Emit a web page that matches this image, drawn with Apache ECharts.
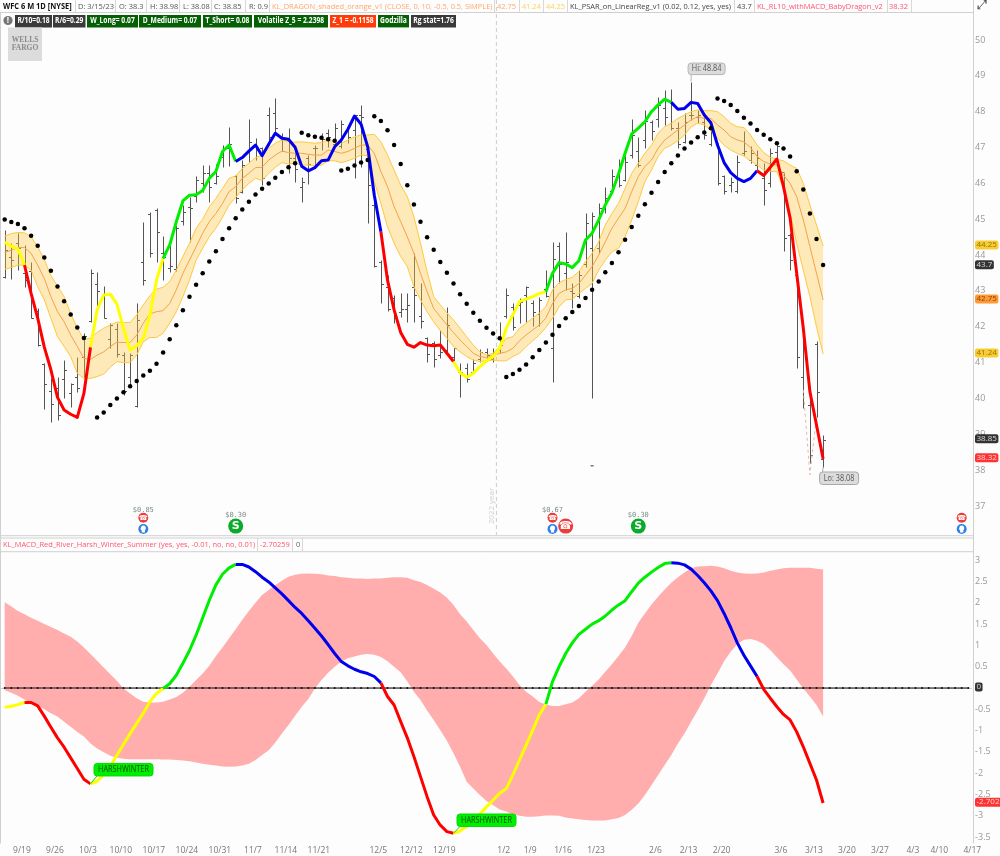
<!DOCTYPE html>
<html lang="en">

<head>
    <meta charset="UTF-8">
    <title>WFC 6 M 1D [NYSE]</title>
    <script src="https://cdn.jsdelivr.net/npm/echarts@6/dist/echarts.min.js"></script>
    <style>
        html, body { margin: 0; padding: 0; background: #fdfdfd; }
        #main { width: 1000px; height: 856px; }
    </style>
    <script>
        // trading days, 9/15/22 .. 4/17/23 (holidays are not on the axis)
        var tradingDays = [
            "9/15", "9/16", "9/19", "9/20", "9/21", "9/22", "9/23", "9/26", "9/27", "9/28", "9/29", "9/30",
            "10/3", "10/4", "10/5", "10/6", "10/7", "10/10", "10/11", "10/12", "10/13", "10/14",
            "10/17", "10/18", "10/19", "10/20", "10/21", "10/24", "10/25", "10/26", "10/27", "10/28",
            "10/31", "11/1", "11/2", "11/3", "11/4", "11/7", "11/8", "11/9", "11/10", "11/11",
            "11/14", "11/15", "11/16", "11/17", "11/18", "11/21", "11/22", "11/23", "11/25",
            "11/28", "11/29", "11/30", "12/1", "12/2", "12/5", "12/6", "12/7", "12/8", "12/9",
            "12/12", "12/13", "12/14", "12/15", "12/16", "12/19", "12/20", "12/21", "12/22", "12/23",
            "12/27", "12/28", "12/29", "12/30", "1/3", "1/4", "1/5", "1/6", "1/9", "1/10", "1/11", "1/12", "1/13",
            "1/17", "1/18", "1/19", "1/20", "1/23", "1/24", "1/25", "1/26", "1/27",
            "1/30", "1/31", "2/1", "2/2", "2/3", "2/6", "2/7", "2/8", "2/9", "2/10",
            "2/13", "2/14", "2/15", "2/16", "2/17", "2/21", "2/22", "2/23", "2/24",
            "2/27", "2/28", "3/1", "3/2", "3/3", "3/6", "3/7", "3/8", "3/9", "3/10",
            "3/13", "3/14", "3/15", "3/16", "3/17", "3/20", "3/21", "3/22", "3/23", "3/24",
            "3/27", "3/28", "3/29", "3/30", "3/31", "4/3", "4/4", "4/5", "4/6",
            "4/10", "4/11", "4/12", "4/13", "4/14", "4/17"
        ];
        var tickDays = ["9/19", "9/26", "10/3", "10/10", "10/17", "10/24", "10/31", "11/7", "11/14", "11/21", "12/5", "12/12", "12/19", "1/3", "1/9", "1/17", "1/24", "2/6", "2/13", "2/21", "3/6", "3/13", "3/20", "3/27", "4/3", "4/10", "4/17"];
        var tickLabels = ["9/19", "9/26", "10/3", "10/10", "10/17", "10/24", "10/31", "11/7", "11/14", "11/21", "12/5", "12/12", "12/19", "1/2", "1/9", "1/16", "1/23", "2/6", "2/13", "2/20", "3/6", "3/13", "3/20", "3/27", "4/3", "4/10", "4/17"];
        var priceTicks = [37, 38, 39, 40, 41, 42, 43, 44, 45, 46, 47, 48, 49, 50];
        var macdTicks = [-3.5, -3, -2.5, -2, -1.5, -1, -0.5, 0.5, 1, 1.5, 2, 2.5, 3];

        // price bars
        var opens = [
            43.40, 43.95, 44.35, 43.50, 43.55, 42.45, 40.95, 40.20, 40.30, 40.55,
            40.15, 40.60, 41.15, 42.15, 43.20, 42.85, 41.65, 41.95, 41.20, 40.60,
            39.80, 43.80, 45.15, 45.25, 44.05, 43.65, 43.60, 44.95, 45.35, 45.65,
            46.00, 46.30, 46.00, 46.75, 47.00, 46.20, 45.75, 46.90, 47.05, 47.00,
            47.90, 47.95, 47.30, 47.20, 46.70, 45.90, 46.70, 47.00, 47.30, 47.40,
            47.10, 47.05, 47.50, 47.50, 47.90, 46.95, 45.40, 43.80, 43.10, 42.80,
            42.40, 42.50, 43.10, 42.30, 41.70, 41.55, 41.20, 41.35, 41.15, 40.75,
            40.85, 40.75, 41.10, 41.30, 41.10, 41.35, 42.30, 42.55, 42.60, 42.90,
            42.65, 42.35, 43.05, 41.40, 44.25, 43.50, 43.00, 42.85, 43.75, 44.20,
            44.20, 45.30, 45.80, 46.20, 46.10, 46.80, 46.90, 47.20, 47.70, 47.80,
            48.10, 48.30, 47.55, 47.15, 47.90, 47.85, 47.70, 47.10, 47.10, 46.20,
            45.95, 45.80, 46.85, 46.65, 46.50, 46.15, 46.02, 46.88, 46.33, 44.56,
            43.44, 40.59, 39.82, 41.52, 38.30
        ];
        var highs = [
            44.70, 44.33, 44.61, 44.28, 43.82, 42.51, 40.98, 40.56, 40.59, 41.07,
            40.44, 41.17, 41.82, 43.60, 43.54, 43.15, 42.11, 42.11, 41.30, 41.26,
            42.65, 44.93, 45.21, 45.30, 44.53, 44.33, 44.84, 45.40, 45.63, 46.21,
            46.51, 46.51, 46.53, 47.07, 47.56, 46.24, 46.65, 47.81, 47.26, 47.02,
            48.12, 48.37, 47.40, 47.54, 47.02, 46.19, 46.79, 47.07, 47.40, 47.51,
            47.68, 47.77, 47.54, 47.91, 48.19, 47.07, 45.72, 43.86, 43.44, 42.89,
            42.93, 42.93, 44.05, 43.23, 41.72, 41.61, 41.91, 42.56, 41.40, 40.98,
            40.98, 41.09, 41.37, 41.40, 41.40, 42.14, 43.07, 42.65, 42.79, 43.14,
            42.75, 42.84, 43.58, 44.36, 44.37, 44.63, 43.21, 43.58, 45.18, 45.21,
            45.44, 45.91, 46.39, 46.67, 46.84, 47.79, 47.30, 48.05, 47.77, 48.42,
            48.61, 48.62, 47.72, 47.95, 48.84, 48.05, 47.86, 47.58, 47.12, 46.23,
            46.19, 46.79, 47.46, 47.04, 46.93, 46.56, 46.98, 47.16, 46.28, 44.61,
            43.49, 42.10, 40.19, 41.59, 38.98
        ];
        var lows = [
            43.35, 43.33, 43.58, 43.10, 42.25, 41.46, 39.71, 39.34, 39.40, 40.00,
            39.77, 40.19, 40.61, 42.14, 42.42, 42.24, 41.40, 41.15, 40.10, 40.38,
            39.77, 43.17, 43.96, 43.82, 43.30, 43.54, 43.56, 44.84, 44.37, 45.49,
            45.77, 45.49, 45.97, 46.47, 46.49, 45.44, 45.72, 46.61, 46.65, 45.95,
            47.07, 47.40, 46.89, 46.28, 46.05, 45.49, 45.97, 46.51, 46.93, 47.02,
            47.07, 46.98, 47.12, 46.14, 46.47, 44.89, 43.66, 42.65, 42.45, 42.10,
            42.28, 42.14, 42.14, 41.96, 41.03, 40.87, 41.12, 41.21, 40.98, 40.05,
            40.47, 40.70, 41.03, 41.07, 41.03, 41.26, 42.24, 41.91, 42.10, 42.14,
            42.02, 42.02, 42.84, 40.47, 43.21, 43.03, 42.51, 42.79, 43.68, 40.00,
            44.05, 45.16, 45.72, 45.91, 46.07, 46.70, 46.45, 46.98, 47.21, 47.58,
            47.63, 47.49, 46.98, 47.12, 47.77, 47.69, 47.23, 47.04, 45.96, 45.70,
            45.77, 45.72, 46.79, 46.56, 46.37, 45.40, 45.91, 46.61, 44.12, 43.58,
            40.84, 39.73, 38.19, 39.49, 38.08
        ];
        var closes = [
            44.15, 43.85, 44.20, 43.30, 42.25, 41.50, 40.40, 39.85, 39.55, 40.80,
            40.40, 40.30, 41.75, 43.50, 43.00, 42.25, 42.05, 41.25, 40.20, 41.20,
            42.20, 43.30, 44.05, 44.65, 43.95, 43.70, 44.75, 45.20, 45.30, 46.10,
            46.30, 45.90, 46.20, 47.00, 47.10, 45.60, 46.50, 47.15, 46.95, 46.15,
            47.30, 47.55, 46.90, 46.70, 46.40, 46.05, 46.55, 47.00, 47.25, 47.30,
            47.55, 47.65, 47.30, 47.90, 47.85, 45.95, 43.70, 43.20, 42.50, 42.30,
            42.50, 42.60, 42.90, 42.15, 41.25, 41.10, 41.30, 42.05, 41.40, 40.75,
            40.55, 41.00, 41.30, 41.20, 41.30, 41.50, 42.90, 42.00, 42.70, 43.10,
            42.40, 42.75, 42.85, 43.90, 43.75, 43.80, 42.95, 43.45, 44.90, 45.10,
            45.30, 45.60, 46.20, 45.95, 46.60, 47.35, 46.50, 47.75, 47.45, 48.20,
            47.85, 47.55, 47.10, 47.70, 47.90, 47.90, 47.35, 47.50, 46.00, 45.80,
            46.05, 46.60, 46.90, 46.85, 46.70, 45.82, 46.86, 47.05, 44.47, 43.85,
            41.15, 41.40, 38.42, 40.18, 38.85
        ];

        // KL_PSAR_on_LinearReg
        var psar = [
            44.99, 44.92, 44.87, 44.75, 44.54, 44.26, 43.93, 43.56, 43.12, 42.71,
            42.34, 41.98, 41.69, null, 39.47, 39.61, 39.82, 40.00, 40.17, 40.34,
            40.49, 40.64, 40.77, 40.97, 41.28, 41.65, 42.04, 42.46, 42.84, 43.17,
            43.49, 43.82, 44.11, 44.45, 44.75, 45.03, 45.27, 45.49, 45.69, 45.85,
            46.00, 46.16, 46.32, 46.45, 46.56, 47.41, 47.34, 47.30, 47.27, 47.23,
            47.19, 46.36, 46.41, 46.50, 46.58, 46.65, 47.87, 47.74, 47.48, 47.07,
            46.54, 45.95, 45.41, 44.93, 44.50, 44.15, 43.81, 43.51, 43.21, 42.91,
            42.64, 42.39, 42.17, 41.97, 41.81, 41.68, 40.60, 40.68, 40.80, 40.95,
            41.15, 41.35, 41.56, 41.78, 42.02, 42.24, 42.41, 42.58, 42.80, 43.03,
            43.26, 43.52, 43.78, 44.08, 44.43, 44.78, 45.10, 45.42, 45.74, 46.04,
            46.32, 46.56, 46.78, 46.97, 47.14, 47.29, 47.42, 47.54, 48.37, 48.30,
            48.19, 48.02, 47.83, 47.67, 47.49, 47.36, 47.23, 47.12, 46.97, 46.75,
            46.34, 45.83, 45.16, 44.45, 43.72
        ];

        // KL_RL10
        var rl10 = [
            44.36, 44.25, 44.17, 43.72, 42.93, 42.24, 41.43, 40.80, 40.03, 39.68,
            39.56, 39.47, 40.14, 41.43, 42.47, 42.89, 42.91, 42.63, 41.96, 41.35,
            41.47, 41.68, 42.33, 43.30, 43.91, 44.28, 44.93, 45.51, 45.67, 45.68,
            45.80, 46.14, 46.33, 46.89, 47.07, 46.61, 46.72, 46.90, 47.07, 46.77,
            47.09, 47.40, 47.26, 47.23, 47.01, 46.48, 46.35, 46.44, 46.63, 46.65,
            47.02, 47.21, 47.51, 47.88, 47.65, 47.02, 45.67, 44.65, 43.30, 42.47,
            41.84, 41.51, 41.43, 41.56, 41.49, 41.47, 41.49, 41.26, 41.03, 40.72,
            40.59, 40.70, 40.89, 41.05, 41.17, 41.40, 41.96, 42.33, 42.70, 42.77,
            42.84, 42.93, 42.98, 43.49, 43.79, 43.75, 43.65, 43.84, 44.42, 44.61,
            44.98, 45.40, 45.74, 46.26, 46.84, 47.38, 47.54, 47.72, 48.00, 48.19,
            48.35, 48.26, 48.07, 48.09, 48.26, 48.23, 47.91, 47.69, 47.07, 46.58,
            46.30, 46.14, 46.05, 46.14, 46.35, 46.22, 46.45, 46.68, 45.91, 45.03,
            43.49, 41.96, 40.19, 39.26, 38.32
        ];

        // KL_DRAGON_shaded_orange
        var dragonUpper = [
            44.53, 44.60, 44.63, 44.62, 44.51, 44.23, 43.88, 43.42, 43.14, 42.84,
            42.37, 41.96, 41.65, 41.68, 41.84, 41.96, 42.05, 42.13, 42.12, 42.12,
            42.33, 42.61, 42.87, 43.05, 43.10, 43.26, 43.58, 43.96, 44.33, 44.75,
            45.00, 45.35, 45.58, 45.86, 46.14, 46.21, 46.42, 46.56, 46.72, 46.79,
            46.98, 47.12, 47.21, 47.16, 47.15, 47.16, 47.14, 47.12, 47.14, 47.21,
            47.16, 47.12, 47.21, 47.30, 47.35, 47.35, 47.37, 47.16, 46.79, 46.37,
            45.95, 45.63, 45.07, 44.33, 43.54, 42.84, 42.61, 42.39, 42.19, 41.96,
            41.72, 41.49, 41.30, 41.21, 41.26, 41.45, 41.68, 41.72, 41.96, 42.10,
            42.24, 42.38, 42.56, 43.03, 43.23, 43.32, 43.38, 43.54, 43.82, 44.05,
            44.37, 44.84, 45.16, 45.44, 45.86, 46.28, 46.56, 46.84, 47.07, 47.40,
            47.58, 47.68, 47.81, 47.91, 48.00, 48.05, 48.03, 48.03, 48.00, 47.86,
            47.68, 47.58, 47.56, 47.35, 47.07, 46.86, 46.73, 46.67, 46.63, 46.51,
            46.42, 46.00, 45.40, 44.84, 44.25
        ];
        var dragonMid = [
            44.07, 44.14, 44.21, 44.21, 44.05, 43.72, 43.35, 42.84, 42.42, 42.14,
            41.77, 41.45, 41.12, 41.09, 41.21, 41.30, 41.45, 41.57, 41.56, 41.56,
            41.77, 42.10, 42.36, 42.42, 42.45, 42.65, 43.03, 43.49, 43.86, 44.23,
            44.61, 44.93, 45.16, 45.44, 45.77, 45.91, 46.14, 46.28, 46.44, 46.45,
            46.65, 46.79, 46.90, 46.86, 46.84, 46.84, 46.81, 46.79, 46.79, 46.93,
            46.89, 46.84, 46.89, 46.98, 47.07, 47.07, 46.84, 46.33, 45.91, 45.35,
            44.93, 44.51, 44.05, 43.49, 42.98, 42.51, 42.28, 42.05, 41.84, 41.63,
            41.45, 41.26, 41.17, 41.14, 41.21, 41.26, 41.30, 41.40, 41.61, 41.77,
            41.91, 42.05, 42.24, 42.65, 42.93, 43.03, 43.07, 43.21, 43.44, 43.68,
            44.00, 44.37, 44.75, 45.03, 45.30, 45.77, 46.19, 46.47, 46.65, 46.98,
            47.21, 47.35, 47.49, 47.63, 47.77, 47.86, 47.81, 47.81, 47.63, 47.49,
            47.30, 47.21, 47.16, 47.00, 46.75, 46.61, 46.54, 46.51, 46.23, 46.00,
            45.63, 44.98, 44.24, 43.49, 42.75
        ];
        var dragonLower = [
            43.60, 43.65, 43.72, 43.72, 43.58, 43.12, 42.75, 42.24, 41.72, 41.45,
            41.17, 40.70, 40.56, 40.56, 40.61, 40.68, 40.87, 41.03, 41.00, 41.00,
            41.21, 41.58, 41.70, 41.70, 41.82, 42.10, 42.42, 42.84, 43.30, 43.86,
            44.19, 44.51, 44.75, 45.05, 45.40, 45.61, 45.82, 46.00, 46.14, 46.08,
            46.28, 46.45, 46.58, 46.54, 46.56, 46.51, 46.51, 46.49, 46.51, 46.63,
            46.63, 46.58, 46.63, 46.70, 46.79, 46.77, 46.05, 45.44, 44.79, 44.33,
            43.96, 43.68, 43.12, 42.75, 42.42, 42.14, 41.89, 41.68, 41.45, 41.30,
            41.17, 41.07, 41.03, 41.05, 41.07, 41.05, 41.05, 41.17, 41.26, 41.45,
            41.61, 41.77, 41.98, 42.24, 42.56, 42.75, 42.77, 42.93, 43.07, 43.21,
            43.58, 43.86, 44.09, 44.19, 44.51, 44.98, 45.49, 46.05, 46.37, 46.75,
            46.98, 47.07, 47.19, 47.35, 47.58, 47.68, 47.63, 47.49, 47.26, 47.07,
            46.93, 46.84, 46.76, 46.63, 46.51, 46.37, 46.33, 46.33, 45.86, 45.17,
            44.33, 43.58, 42.84, 42.00, 41.24
        ];

        // KL_MACD_Red_River_Harsh_Winter_Summer
        var macd = [
            -0.45, -0.43, -0.39, -0.34, -0.34, -0.42, -0.66, -0.92, -1.17, -1.39,
            -1.64, -1.89, -2.14, -2.25, -2.19, -2.03, -1.83, -1.58, -1.32, -1.07,
            -0.83, -0.59, -0.32, -0.13, -0.01, 0.10, 0.30, 0.58, 0.88, 1.24,
            1.65, 2.06, 2.42, 2.67, 2.82, 2.90, 2.90, 2.84, 2.73, 2.60,
            2.49, 2.35, 2.21, 2.05, 1.89, 1.75, 1.58, 1.40, 1.22, 1.02,
            0.81, 0.62, 0.52, 0.44, 0.38, 0.34, 0.27, 0.12, -0.20, -0.40,
            -0.79, -1.17, -1.61, -2.08, -2.55, -2.98, -3.22, -3.37, -3.41, -3.36,
            -3.24, -3.14, -2.96, -2.79, -2.63, -2.47, -2.36, -2.04, -1.69, -1.34,
            -0.99, -0.63, -0.38, 0.15, 0.50, 0.81, 1.06, 1.26, 1.38, 1.50,
            1.58, 1.69, 1.83, 1.95, 2.05, 2.26, 2.46, 2.60, 2.72, 2.83,
            2.92, 2.94, 2.93, 2.89, 2.79, 2.64, 2.47, 2.28, 2.05, 1.75,
            1.42, 1.06, 0.77, 0.52, 0.27, -0.03, -0.24, -0.44, -0.62, -0.75,
            -1.03, -1.38, -1.77, -2.16, -2.70
        ];
        var riverUpper = [
            2.01, 1.91, 1.81, 1.73, 1.65, 1.58, 1.50, 1.43, 1.36, 1.28,
            1.20, 1.09, 0.95, 0.80, 0.64, 0.48, 0.32, 0.17, -0.01, -0.13,
            -0.24, -0.32, -0.34, -0.34, -0.32, -0.27, -0.21, -0.11, 0.03, 0.19,
            0.34, 0.52, 0.75, 0.95, 1.17, 1.38, 1.60, 1.81, 2.00, 2.18,
            2.30, 2.42, 2.52, 2.61, 2.66, 2.68, 2.69, 2.68, 2.67, 2.64,
            2.63, 2.60, 2.59, 2.57, 2.57, 2.56, 2.57, 2.57, 2.59, 2.60,
            2.60, 2.59, 2.53, 2.49, 2.42, 2.33, 2.24, 2.12, 1.95, 1.73,
            1.56, 1.36, 1.17, 1.01, 0.81, 0.62, 0.46, 0.27, 0.07, -0.09,
            -0.20, -0.33, -0.39, -0.42, -0.42, -0.38, -0.34, -0.24, -0.09, 0.05,
            0.20, 0.38, 0.56, 0.75, 0.95, 1.22, 1.53, 1.75, 1.96, 2.14,
            2.31, 2.47, 2.60, 2.71, 2.81, 2.85, 2.86, 2.87, 2.85, 2.81,
            2.75, 2.71, 2.69, 2.68, 2.69, 2.71, 2.75, 2.78, 2.81, 2.82,
            2.82, 2.82, 2.82, 2.80, 2.78
        ];
        var riverLower = [
            -0.05, -0.11, -0.18, -0.27, -0.36, -0.42, -0.50, -0.59, -0.67, -0.79,
            -0.91, -1.03, -1.14, -1.30, -1.42, -1.51, -1.59, -1.64, -1.66, -1.67,
            -1.67, -1.67, -1.67, -1.67, -1.68, -1.68, -1.69, -1.70, -1.72, -1.75,
            -1.78, -1.80, -1.82, -1.84, -1.85, -1.84, -1.82, -1.78, -1.69, -1.57,
            -1.46, -1.28, -1.07, -0.87, -0.65, -0.44, -0.26, -0.01, 0.19, 0.36,
            0.50, 0.62, 0.70, 0.74, 0.78, 0.80, 0.78, 0.73, 0.63, 0.50,
            0.37, 0.15, -0.09, -0.28, -0.53, -0.75, -0.99, -1.24, -1.53, -1.85,
            -2.20, -2.36, -2.51, -2.65, -2.75, -2.85, -2.90, -2.97, -3.00, -3.02,
            -3.02, -3.01, -2.99, -2.99, -3.00, -3.04, -3.06, -3.08, -3.10, -3.11,
            -3.11, -3.11, -3.08, -3.05, -2.98, -2.86, -2.71, -2.51, -2.28, -2.04,
            -1.81, -1.57, -1.30, -1.07, -0.79, -0.52, -0.24, 0.07, 0.34, 0.63,
            0.85, 1.03, 1.13, 1.15, 1.11, 1.03, 0.89, 0.72, 0.56, 0.41,
            0.20, -0.01, -0.20, -0.40, -0.67
        ];

        // bar index where each colour regime starts; the last runs to the final bar
        var regimeStarts = [0, 3, 13, 24, 35, 57, 68, 82, 101, 114];
        var regimeNames = ["yellow", "red", "yellow", "green", "blue", "red", "yellow", "green", "blue", "red"];

        // dashed spike next to the last bars
        var spikeBars = [121, 122, 123];
        var spikeValues = [40.24, 37.87, 39.50];
        var strayBars = [89];
        var strayValues = [38.12];

        // earnings / dividend markers below the bars
        var phoneBars = [21, 83, 145];
        var bulbBars = [21, 83, 145];
        var dividendBars = [35, 96];
        var bigPhoneBars = [85];
        var dollarBars = [21, 35, 83, 96];
        var dollarTexts = ["$0.85", "$0.30", "$0.67", "$0.30"];

        // right hand price tags
        var priceTagValues = [44.25, 43.7, 42.75, 41.24, 38.85, 38.32];
        var priceTagTexts = ["44.25", "43.7", "42.75", "41.24", "38.85", "38.32"];
        var macdTagValues = [0, -2.7026];
        var macdTagTexts = ["0", "-2.7026"];

        var regimeColors = { yellow: "#ffff00", red: "#ff0000", green: "#00ee00", blue: "#0000ee" };
        var priceTagStyles = [
            ["#f5c000", "#7a5c00"], ["#000", "#fff"], ["#ff7f00", "#6b3300"],
            ["#f5c000", "#7a5c00"], ["#000", "#fff"], ["#ff0000", "#fff"]
        ];
        var macdTagStyles = [["#000", "#fff"], ["#ff0000", "#fff"]];
        var FONT = '"Open Sans"';

        window.onload = function () {
            var mychart = echarts.init(document.getElementById("main"));
            var series = [];

            // OHLC bars, left tick is the open, right tick the close
            series.push({
                type: "custom",
                xAxisIndex: 0,
                yAxisIndex: 0,
                z: 2,
                encode: { x: 0, y: [1, 2, 3, 4] },
                data: closes.map(function (c, i) { return [i, opens[i], highs[i], lows[i], c]; }),
                renderItem: function (params, api) {
                    var i = api.value(0);
                    var x = Math.round(api.coord([i, 0])[0]) + 0.5;
                    var yOf = function (v) { return Math.round(api.coord([i, v])[1]) + 0.5; };
                    var style = { stroke: "#555", lineWidth: 1, fill: null };
                    return {
                        type: "group",
                        children: [
                            { type: "line", shape: { x1: x, y1: yOf(api.value(2)), x2: x, y2: yOf(api.value(3)) }, style: style },
                            { type: "line", shape: { x1: x - 2.5, y1: yOf(api.value(1)), x2: x, y2: yOf(api.value(1)) }, style: style },
                            { type: "line", shape: { x1: x, y1: yOf(api.value(4)), x2: x + 2.5, y2: yOf(api.value(4)) }, style: style }
                        ]
                    };
                }
            });

            function bandSeries(upper, lower, color, gridIndex, z) {
                return {
                    type: "custom",
                    xAxisIndex: gridIndex,
                    yAxisIndex: gridIndex,
                    z: z,
                    data: [[0, upper[0]]],
                    renderItem: function (params, api) {
                        var points = [];
                        upper.forEach(function (v, i) { points.push(api.coord([i, v])); });
                        for (var i = lower.length - 1; i >= 0; i--) {
                            points.push(api.coord([i, lower[i]]));
                        }
                        return { type: "polygon", shape: { points: points }, style: { fill: color } };
                    }
                };
            }

            function plainLine(data, color, width, gridIndex, z) {
                return {
                    type: "line",
                    xAxisIndex: gridIndex,
                    yAxisIndex: gridIndex,
                    data: data,
                    symbol: "none",
                    z: z,
                    lineStyle: { color: color, width: width, join: "round" }
                };
            }

            series.push(bandSeries(dragonUpper, dragonLower, "rgba(252,200,60,0.36)", 0, 3));
            series.push(plainLine(dragonUpper, "#ffc840", 1, 0, 4));
            series.push(plainLine(dragonLower, "#ffc840", 1, 0, 4));
            series.push(plainLine(dragonMid, "#f7a04b", 1, 0, 4));

            // dashed spike
            var spike = plainLine(spikeBars.map(function (b, i) { return [b, spikeValues[i]]; }), "#e3b8a8", 1, 0, 2);
            spike.lineStyle.type = [3, 3];
            series.push(spike);

            series.push({
                type: "scatter",
                xAxisIndex: 0,
                yAxisIndex: 0,
                z: 5,
                data: strayBars.map(function (b, i) { return [b, strayValues[i]]; }),
                symbol: "rect",
                symbolSize: [3, 1],
                itemStyle: { color: "#333", opacity: 1 }
            });

            // colour runs of the two regime lines
            regimeStarts.forEach(function (start, r) {
                var end = r + 1 < regimeStarts.length ? regimeStarts[r + 1] : rl10.length - 1;
                var pick = function (v, i) { return i >= start && i <= end ? v : null; };
                var color = regimeColors[regimeNames[r]];
                series.push(plainLine(rl10.map(pick), color, 3, 0, 6));
                series.push(plainLine(macd.map(pick), color, 3, 1, 6));
            });

            series.push({
                type: "scatter",
                xAxisIndex: 0,
                yAxisIndex: 0,
                z: 7,
                data: psar.map(function (v, i) { return [i, v]; }),
                symbol: "circle",
                symbolSize: 4.5,
                itemStyle: { color: "#000", opacity: 1 }
            });

            // marker rows sit in the empty strip at the bottom of the price panel
            function markerSeries(bars, value, size, color, glyph, glyphSize) {
                return {
                    type: "scatter",
                    xAxisIndex: 0,
                    yAxisIndex: 0,
                    z: 8,
                    data: bars.map(function (b) { return [b, value]; }),
                    symbol: "circle",
                    symbolSize: size,
                    itemStyle: { color: color, opacity: 1 },
                    label: {
                        show: true,
                        position: "inside",
                        formatter: glyph,
                        color: "#fff",
                        fontSize: glyphSize,
                        fontWeight: "bold",
                        fontFamily: "DejaVu Sans"
                    }
                };
            }
            series.push(markerSeries(phoneBars, 36.67, 10, "#ee3b3b", "\u260E", 7));
            series.push(markerSeries(bigPhoneBars, 36.44, 15, "#ee3b3b", "\u260E", 11));
            series.push(markerSeries(dividendBars, 36.44, 15, "#0aaa2a", "S", 11));
            series.push(markerSeries(bulbBars, 36.36, 10, "#2f80ed", "", 7));
            series.push({
                type: "scatter",
                xAxisIndex: 0,
                yAxisIndex: 0,
                z: 9,
                data: bulbBars.map(function (b) { return [b, 36.36]; }),
                symbol: "path://M5 0a4 4 0 0 1 2.5 7.1v2.9h-5v-2.9a4 4 0 0 1 2.5-7.1z",
                symbolSize: [5, 7],
                itemStyle: { color: "#fff", opacity: 1 }
            });
            series.push({
                type: "scatter",
                xAxisIndex: 0,
                yAxisIndex: 0,
                z: 9,
                data: dollarBars.map(function (b, i) { return [b, dollarTexts[i] === "$0.30" ? 36.73 : 36.89, dollarTexts[i]]; }),
                symbolSize: 0,
                label: {
                    show: true,
                    position: "inside",
                    formatter: function (p) { return p.data[2]; },
                    color: "#5a7068",
                    fontSize: 7,
                    fontFamily: "DejaVu Sans Mono"
                }
            });

            // dashed year boundary between the 12/30 and 1/3 bars
            series.push({
                type: "custom",
                xAxisIndex: 0,
                yAxisIndex: 0,
                z: 1,
                data: [[tradingDays.indexOf("1/3"), 51]],
                renderItem: function (params, api) {
                    var x = api.coord([api.value(0), 50])[0] - api.size([1, 0])[0] / 2;
                    return {
                        type: "group",
                        children: [
                            { type: "line", shape: { x1: x, y1: 0, x2: x, y2: 535 }, style: { stroke: "#ccc", lineWidth: 1, lineDash: [4, 3] } },
                            {
                                type: "text",
                                x: x - 5,
                                y: 506,
                                rotation: Math.PI / 2,
                                style: { text: "2022 year", fill: "#cfcfcf", font: "8px " + FONT, align: "center", verticalAlign: "middle" }
                            }
                        ]
                    };
                }
            });

            series.push(bandSeries(riverUpper, riverLower, "#ffadad", 1, 3));

            // zero line of the lower panel
            series.push({
                type: "line",
                xAxisIndex: 1,
                yAxisIndex: 1,
                z: 5,
                data: tradingDays.map(function () { return 0; }),
                symbol: "circle",
                symbolSize: 2,
                showAllSymbol: true,
                itemStyle: { color: "#111", opacity: 1 },
                lineStyle: { color: "#111", width: 1.2 }
            });

            // speech bubbles: anchor point plus an offset box in pixels
            function calloutSeries(gridIndex, bar, value, text, dx, dy, w, h, fill, border, textColor) {
                return {
                    type: "custom",
                    xAxisIndex: gridIndex,
                    yAxisIndex: gridIndex,
                    z: 10,
                    data: [[bar, value]],
                    renderItem: function (params, api) {
                        var p = api.coord([api.value(0), api.value(1)]);
                        var bx = p[0] + dx;
                        var by = p[1] + dy;
                        var sx = bx + 3;
                        var sy = dy < 0 ? by + h : by;
                        return {
                            type: "group",
                            children: [
                                { type: "line", shape: { x1: p[0], y1: p[1], x2: sx, y2: sy }, style: { stroke: border, lineWidth: 1 } },
                                { type: "rect", shape: { x: bx, y: by, width: w, height: h, r: 3 }, style: { fill: fill, stroke: border, lineWidth: 1 } },
                                {
                                    type: "text",
                                    x: bx + w / 2,
                                    y: by + h / 2,
                                    scaleX: 0.86,
                                    style: { text: text, fill: textColor, font: "8.5px " + FONT, align: "center", verticalAlign: "middle" }
                                }
                            ]
                        };
                    }
                };
            }
            series.push(calloutSeries(0, 104, highs[104], "Hi: 48.84", -3, -18.5, 37, 11.5, "#dcdcdc", "#b5b5b5", "#555"));
            series.push(calloutSeries(0, 124, lows[124], "Lo: 38.08", -3.5, 4.7, 39, 12.5, "#dcdcdc", "#a8a8a8", "#555"));
            series.push(calloutSeries(1, 13, macd[13], "HARSHWINTER", 3.5, -20.4, 59, 12.5, "#00ee00", "#00dd00", "#064b06"));
            series.push(calloutSeries(1, 68, macd[68], "HARSHWINTER", 3.5, -19.3, 59, 12.5, "#00ee00", "#00dd00", "#064b06"));

            // tags on the right axis, hung off the last category
            function tagSeries(gridIndex, values, texts, styles) {
                return {
                    type: "scatter",
                    xAxisIndex: gridIndex,
                    yAxisIndex: gridIndex,
                    z: 11,
                    symbolSize: 0,
                    data: values.map(function (v, i) {
                        return {
                            value: [tradingDays.length - 1, v],
                            label: {
                                show: true,
                                position: "right",
                                distance: 6.7,
                                offset: [0, -1],
                                formatter: texts[i],
                                backgroundColor: styles[i][0],
                                color: styles[i][1],
                                fontSize: 8,
                                fontFamily: FONT,
                                lineHeight: 9,
                                padding: [0, 1.5],
                                borderRadius: 2
                            }
                        };
                    })
                };
            }
            series.push(tagSeries(0, priceTagValues, priceTagTexts, priceTagStyles));
            series.push(tagSeries(1, macdTagValues, macdTagTexts, macdTagStyles));

            // legend strips and chips
            var graphics = [];
            function hLine(y, x1, x2, color) {
                graphics.push({ type: "line", shape: { x1: x1, y1: y, x2: x2, y2: y }, style: { stroke: color || "#d0d0d0", lineWidth: 1 }, silent: true });
            }
            function vLine(x, y1, y2, color) {
                graphics.push({ type: "line", shape: { x1: x, y1: y1, x2: x, y2: y2 }, style: { stroke: color || "#d8d8d8", lineWidth: 1 }, silent: true });
            }
            function put(text, x, y, color, font, align, scaleX) {
                graphics.push({
                    type: "text",
                    silent: true,
                    x: x,
                    y: y,
                    scaleX: scaleX || 1,
                    style: { text: text, fill: color, font: font || "8px " + FONT, align: align || "left", verticalAlign: "middle" }
                });
            }

            var topCells = [
                ["WFC 6 M 1D [NYSE]", 3, "#111", "bold 8px " + FONT, 75.5],
                ["D: 3/15/23", 78, "#555", null, 115.5],
                ["O: 38.3", 119, "#555", null, 146.5],
                ["H: 38.98", 150, "#555", null, 179.5],
                ["L: 38.08", 183, "#555", null, 211.5],
                ["C: 38.85", 214, "#555", null, 245.5],
                ["R: 0.9", 249, "#555", null, 269.5],
                ["KL_DRAGON_shaded_orange_v1 (CLOSE, 0, 10, -0.5, 0.5, SIMPLE)", 272, "#ffa76b", null, 494.5],
                ["42.75", 497, "#ffa76b", null, 519.5],
                ["41.24", 522, "#ffd257", null, 543.5],
                ["44.25", 546, "#ffd257", null, 567.5],
                ["KL_PSAR_on_LinearReg_v1 (0.02, 0.12, yes, yes)", 570, "#444", null, 734.5],
                ["43.7", 737, "#444", null, 754.5],
                ["KL_RL10_withMACD_BabyDragon_v2", 757, "#ff5470", null, 887.5],
                ["38.32", 889, "#ff5470", null, 911.5]
            ];
            topCells.forEach(function (c) {
                put(c[0], c[1], 6.5, c[2], c[3], "left", 0.93);
                vLine(c[4], 0, 12);
            });
            hLine(12.5, 0, 973);

            var chips = [
                ["R/10=0.18", 15, 52, "#3a3a3a"],
                ["R/6=0.29", 53, 85.5, "#3a3a3a"],
                ["W_Long= 0.07", 87, 138, "#056005"],
                ["D_Medium= 0.07", 139, 201, "#056005"],
                ["T_Short= 0.08", 203, 252, "#056005"],
                ["Volatile Z_5 = 2.2398", 254, 328, "#056005"],
                ["Z_1 = -0.1158", 330, 376, "#ff3b0a"],
                ["Godzilla", 378, 409, "#056005"],
                ["Rg stat=1.76", 411, 456, "#3a3a3a"]
            ];
            chips.forEach(function (c) {
                graphics.push({ type: "rect", silent: true, shape: { x: c[1], y: 15, width: c[2] - c[1], height: 12.4 }, style: { fill: c[3] } });
                put(c[0], (c[1] + c[2]) / 2, 21.2, "#fff", "bold 8px " + FONT, "center", 0.84);
            });
            graphics.push({ type: "circle", silent: true, shape: { cx: 8, cy: 20.5, r: 4.6 }, style: { fill: "#777" } });
            put("!", 8, 20.5, "#fff", "bold 8px " + FONT, "center");

            graphics.push({ type: "rect", silent: true, shape: { x: 8, y: 27.5, width: 34, height: 33.5 }, style: { fill: "#dcdcdc" } });
            put("WELLS", 25, 40, "#8a8a8a", 'bold 7.5px "Liberation Serif"', "center");
            put("FARGO", 25, 48, "#8a8a8a", 'bold 7.5px "Liberation Serif"', "center");

            put("\u2922", 982, 5.5, "#444", '13px "DejaVu Sans"', "center");

            // strip above the lower panel
            hLine(535.7, 0, 973);
            hLine(538, 0, 973);
            hLine(551.7, 0, 973);
            var subCells = [
                ["KL_MACD_Red_River_Harsh_Winter_Summer (yes, yes, -0.01, no, no, 0.01)", 3, "#ff5470", 257.5],
                ["-2.70259", 260, "#ff5470", 292.5],
                ["0", 296, "#666", 302.5]
            ];
            subCells.forEach(function (c) {
                put(c[0], c[1], 545, c[2], null, "left", 0.93);
                vLine(c[3], 538, 551.7);
            });

            vLine(973.5, 0, 843.5, "#d0d0d0");
            vLine(0.5, 12, 843.5, "#d0d0d0");

            var Option = {
                backgroundColor: "#fdfdfd",
                animation: false,
                textStyle: { fontFamily: FONT },
                grid: [
                    { left: 1.4, width: 970.2, top: 0, height: 535.5 },
                    { left: 1.4, width: 970.2, top: 552, height: 291.3 }
                ],
                xAxis: [
                    { type: "category", gridIndex: 0, data: tradingDays, show: false },
                    {
                        type: "category",
                        gridIndex: 1,
                        data: tradingDays,
                        axisLine: { lineStyle: { color: "#d0d0d0" } },
                        axisTick: { show: false },
                        axisLabel: {
                            interval: function (index, value) { return tickDays.indexOf(value) >= 0; },
                            formatter: function (value) { return tickLabels[tickDays.indexOf(value)]; },
                            color: "#777",
                            fontSize: 8.5,
                            margin: 3,
                            padding: [0, 0, 0, 8]
                        }
                    }
                ],
                yAxis: [
                    {
                        type: "value",
                        gridIndex: 0,
                        position: "right",
                        min: 36.177,
                        max: 51.116,
                        axisLine: { show: false },
                        axisTick: { show: false },
                        splitLine: { show: false },
                        axisLabel: { customValues: priceTicks, color: "#999", fontSize: 9, margin: 3.5 }
                    },
                    {
                        type: "value",
                        gridIndex: 1,
                        position: "right",
                        min: -3.645,
                        max: 3.192,
                        axisLine: { show: false },
                        axisTick: { show: false },
                        splitLine: { show: false },
                        axisLabel: { customValues: macdTicks, color: "#999", fontSize: 9, margin: 3.5 }
                    }
                ],
                graphic: graphics,
                series: series
            };
            mychart.setOption(Option);
        };
    </script>
</head>

<body>
    <div id="main"></div>
</body>

</html>
